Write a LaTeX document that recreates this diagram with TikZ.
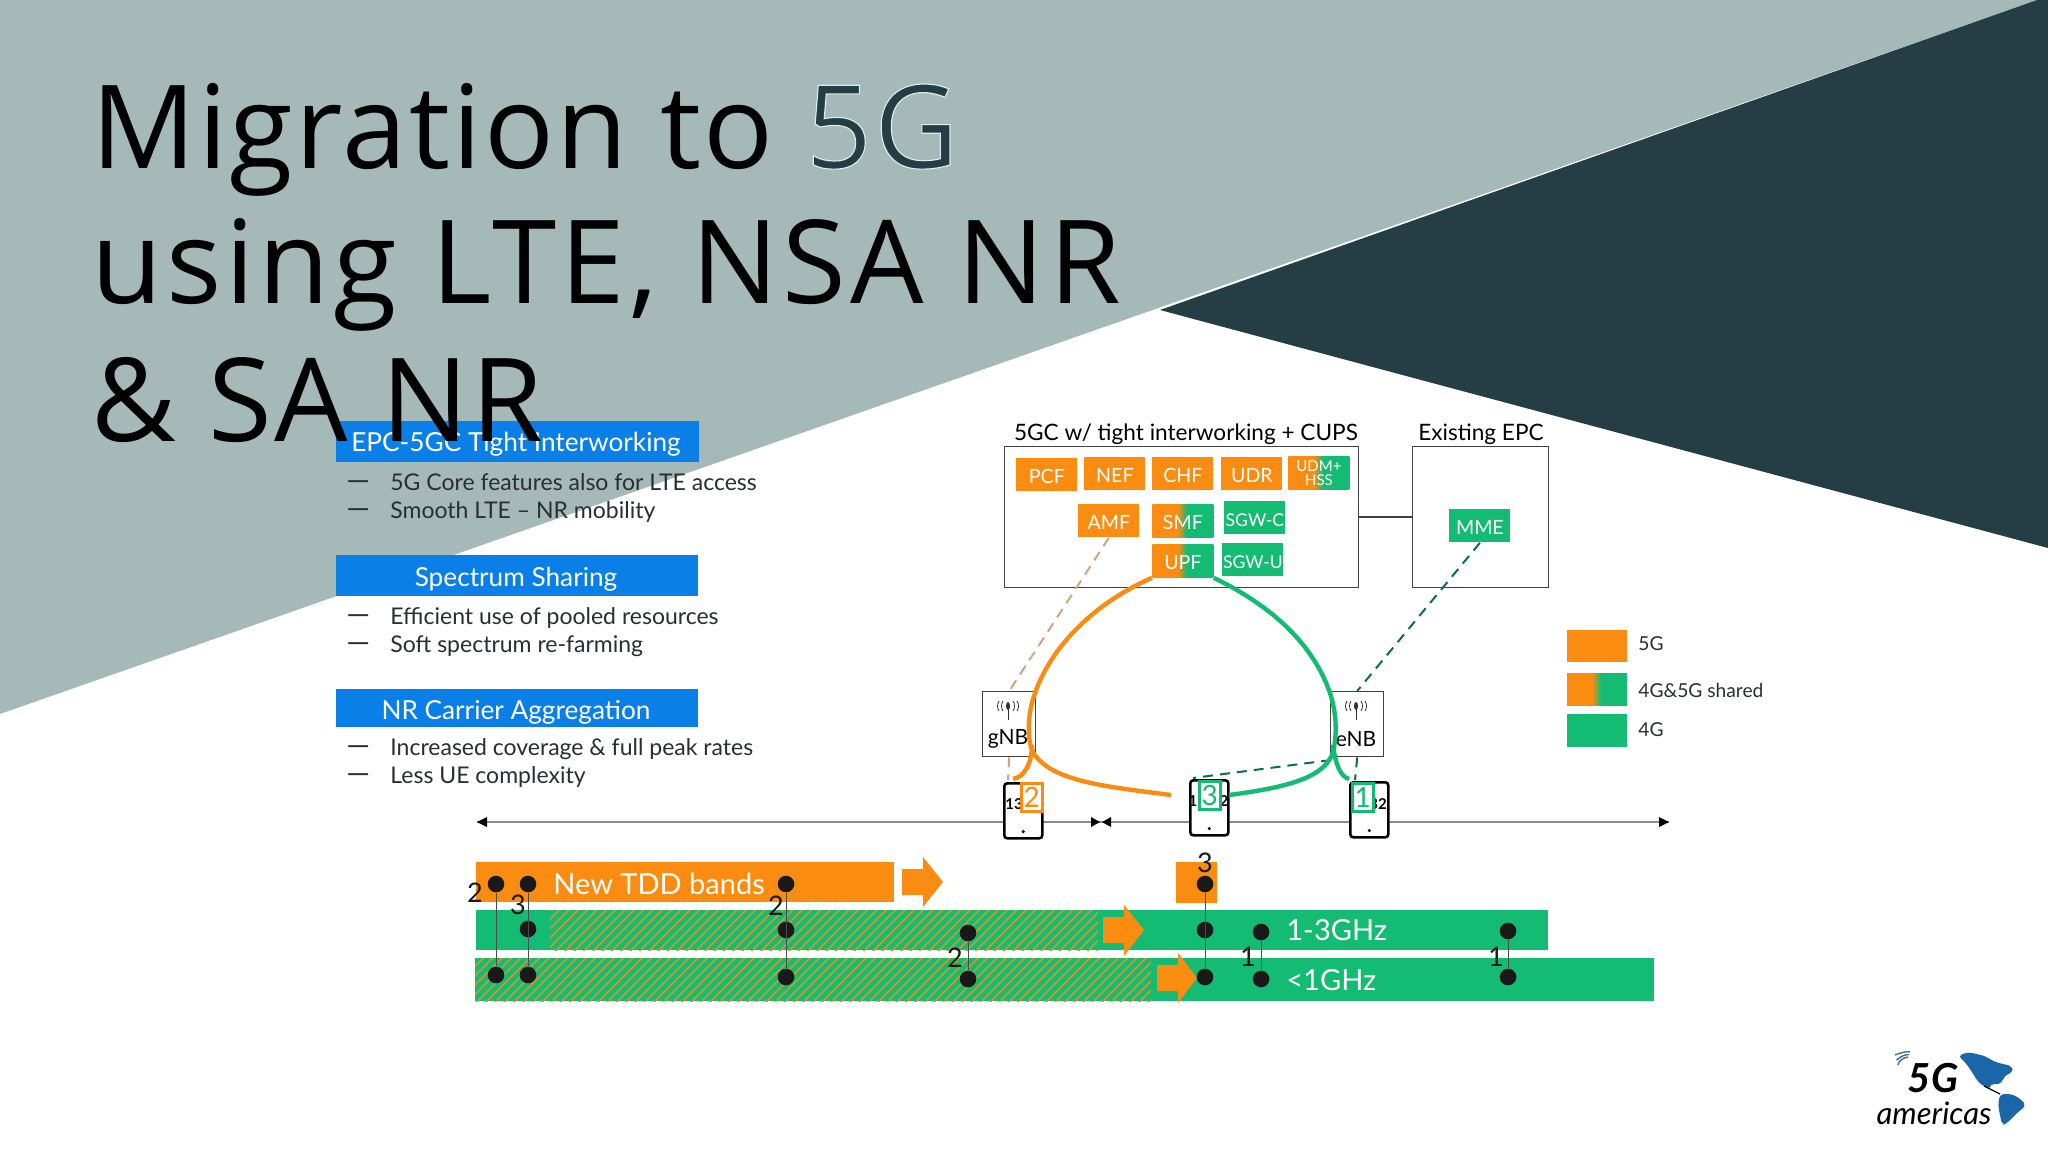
\documentclass[tikz,border=0pt]{standalone}
\usepackage{fontspec}
\setmainfont{Lato}
\newfontfamily\titlefont[LetterSpace=2.2]{Open Sans}
\newfontfamily\titlenarrow[LetterSpace=1.9]{Open Sans}
\newfontfamily\titlewide[LetterSpace=3.3]{Open Sans}
\newfontfamily\titleedge[LetterSpace=1.9,FakeBold=1]{Open Sans}
\usetikzlibrary{patterns.meta}
\definecolor{slate}{HTML}{A6B9B9}
\definecolor{petrol}{HTML}{253E46}
\definecolor{orange5g}{HTML}{FB8C12}
\definecolor{green4g}{HTML}{14BB72}
\definecolor{blueband}{HTML}{0A7FE8}
\definecolor{inktext}{HTML}{2A2E30}
\definecolor{hatchline}{HTML}{C49A2C}
\definecolor{logoblue}{HTML}{1A66A8}
\definecolor{dashtan}{HTML}{CFA57C}
\pgfdeclarehorizontalshading{splitfill}{100bp}{color(0bp)=(orange5g); color(46bp)=(orange5g); color(53bp)=(green4g); color(100bp)=(green4g)}
\tikzset{
    func/.style={minimum width=30.5pt,minimum height=16.5pt,inner sep=0pt,text=white,text height=8.6pt,text depth=0pt,font=\fontsize{9.8}{10}\selectfont,anchor=north west},
    nf5g/.style={func,fill=orange5g},
    nf4g/.style={func,fill=green4g},
    nfboth/.style={func,shading=splitfill},
    frame/.style={draw=black!75,line width=0.7pt,fill=white,inner sep=0pt,anchor=north west},
    phone/.style={draw=black,line width=1.3pt,rounded corners=1.5pt,fill=white,minimum width=19pt,minimum height=27.5pt,inner sep=0pt,anchor=north west},
    tagbox/.style={line width=1.3pt,fill=white,minimum width=10.5pt,minimum height=14pt,inner sep=0pt,font=\fontsize{14}{14}\selectfont,anchor=north west},
    dot/.style={circle,fill=black!90,minimum size=8.3pt,inner sep=0pt},
    head/.style={text=white,inner sep=0pt,font=\fontsize{13.1}{14}\selectfont},
    item/.style={text=inktext,inner sep=0pt,anchor=base west,font=\fontsize{11.5}{12}\selectfont},
    bignum/.style={inner sep=0pt,text=black!90,font=\fontsize{13.5}{14}\selectfont},
    tiny/.style={inner sep=0pt,font=\bfseries\fontsize{7.5}{8}\selectfont},
    bandtext/.style={inner sep=0pt,text=white,font=\fontsize{14.5}{15}\selectfont,anchor=west},
    titleline/.style={inner sep=0pt,anchor=base west,font=\titlefont\fontsize{58}{58}\selectfont},
    dashorange/.style={dash pattern=on 5pt off 3.5pt,color=dashtan,line width=1pt},
    dashgreen/.style={dash pattern=on 5pt off 3.5pt,color=green4g!60!black,line width=1pt},
    flow5g/.style={orange5g,line width=2.2pt},
    flow4g/.style={green4g,line width=2.2pt},
    hatch/.style={pattern={Lines[angle=45,distance=3.3pt,line width=0.9pt]},pattern color=hatchline},
    axisline/.style={black!45,line width=0.7pt},
    mover/.style={fill=orange5g},
}
\begin{document}
\begin{tikzpicture}[x=0.5pt,y=-0.5pt]
    \useasboundingbox (0,0) rectangle (2048,1152);
    % slide background
    \fill[white] (0,0) rectangle (2048,1152);
    \fill[slate] (0,0) -- (2037,0) -- (0,714) -- cycle;
    \fill[petrol] (1160,310) -- (2037,0) -- (2048,0) -- (2048,548) -- cycle;

    % left column
    \fill[blueband] (336,421) rectangle (699,462);
    \fill[blueband] (336,555) rectangle (698,596);
    \fill[blueband] (336,689) rectangle (698,727);
    \node[head] (hdtight) at (516,444) {EPC-5GC Tight Interworking};
    \node[head] (hdshare) at (516,579) {Spectrum Sharing};
    \node[head] (hdca) at (516,712) {NR Carrier Aggregation};
    \foreach \yy/\txt in {490/5G Core features also for LTE access,518/Smooth LTE -- NR mobility,
                          624/Efficient use of pooled resources,652/Soft spectrum re-farming,
                          755/Increased coverage \& full peak rates,783/Less UE complexity}{
        \node[item] at (390,\yy) {\txt};
        \node[item,font=\fontsize{15}{15}\selectfont] at (346,\yy) {---};
    }

    % core boxes
    \node[inner sep=0pt,font=\fontsize{11.3}{12}\selectfont] (cgctitle) at (1186,434) {5GC w/ tight interworking + CUPS};
    \node[inner sep=0pt,font=\fontsize{11.3}{12}\selectfont] (epctitle) at (1481,434) {Existing EPC};
    \node[frame,minimum width=177pt,minimum height=70.5pt] (cgc) at (1004,446) {};
    \node[frame,minimum width=68pt,minimum height=70.5pt] (epc) at (1412,446) {};
    \draw[line width=0.9pt,black!75] (cgc.east) -- (epc.west);

    \node[nf5g] (pcf) at (1016,458) {PCF};
    \node[nf5g] (nef) at (1084,457) {NEF};
    \node[nf5g] (chf) at (1152,457) {CHF};
    \node[nf5g] (udr) at (1221,457) {UDR};
    \node[nfboth,font=\fontsize{7.5}{8}\selectfont,align=center,text height=,text depth=] (udm) at (1288,456) {UDM+\\[-1pt]HSS};
    \node[nf5g] (amf) at (1078,504) {AMF};
    \node[nfboth] (smf) at (1152,504) {SMF};
    \node[nf4g,font=\fontsize{8.8}{9}\selectfont] (sgwc) at (1224,501) {SGW-C};
    \node[nfboth] (upf) at (1152,544) {UPF};
    \node[nf4g,font=\fontsize{8.8}{9}\selectfont] (sgwu) at (1222,543) {SGW-U};
    \node[nf4g] (mme) at (1449,509) {MME};

    % radio nodes
    \node[frame,minimum width=26.5pt,minimum height=32.5pt] (gnb) at (982,691) {};
    \node[frame,minimum width=26.5pt,minimum height=32.5pt] (enb) at (1330,691) {};
    \node[inner sep=0pt,font=\fontsize{10.5}{11}\selectfont] (gnbtxt) at (1008,739) {gNB};
    \node[inner sep=0pt,font=\fontsize{10.5}{11}\selectfont] (enbtxt) at (1356,739) {eNB};
    \foreach \xx in {1008,1356}{
        \draw[line width=0.5pt,black!80] (\xx,703) -- (\xx,720);
        \fill[black!80] (\xx,706) ellipse (2 and 4);
        \draw[line width=0.4pt,black!80] (\xx-5,701) .. controls (\xx-7,704) and (\xx-7,708) .. (\xx-5,711);
        \draw[line width=0.4pt,black!80] (\xx+5,701) .. controls (\xx+7,704) and (\xx+7,708) .. (\xx+5,711);
        \draw[line width=0.4pt,black!80] (\xx-9,701) .. controls (\xx-11,704) and (\xx-11,708) .. (\xx-9,711);
        \draw[line width=0.4pt,black!80] (\xx+9,701) .. controls (\xx+11,704) and (\xx+11,708) .. (\xx+9,711);
    }

    % phones
    \coordinate (axisl) at (477,822);
    \coordinate (axism) at (1100,822);
    \coordinate (axisr) at (1669,822);
    \draw[axisline] (axisl) -- (axism) -- (axisr);
    \fill[black] (477,822) -- (487,817) -- (487,827) -- cycle;
    \fill[black] (1669,822) -- (1659,817) -- (1659,827) -- cycle;
    \fill[black] (1100,822) -- (1091,817) -- (1091,827) -- cycle;
    \fill[black] (1102,822) -- (1111,817) -- (1111,827) -- cycle;
    \node[phone] (uea) at (1003,782) {};
    \node[phone] (ueb) at (1189,779) {};
    \node[phone] (uec) at (1349,781) {};
    \fill (uea.south)+(0,-8) circle (1.7);
    \fill (ueb.south)+(0,-8) circle (1.7);
    \fill (uec.south)+(0,-8) circle (1.7);
    \node[tiny] at (1014,804) {13};
    \node[tiny] at (1193,801) {1};
    \node[tiny] at (1224,801) {2};
    \node[tiny] at (1378,804) {32};
    \node[tagbox,draw=orange5g,text=orange5g] (taga) at (1020,782) {2};
    \node[tagbox,draw=green4g,text=green4g] (tagb) at (1198,780) {3};
    \node[tagbox,draw=green4g,text=green4g] (tagc) at (1351,782) {1};

    % signalling
    \coordinate (gnbdrop) at (1008,780);
    \coordinate (enbdrop) at (1355,780);
    \coordinate (crossa) at (1331,760);
    \coordinate (crossb) at (1193,778);
    \draw[dashorange] (amf.south) -- (gnb.north);
    \draw[dashorange] (gnb.south) -- (gnbdrop);
    \draw[dashgreen] (mme.south) -- (enb.north);
    \draw[dashgreen] (enb.south) -- (enbdrop);
    \draw[dashgreen] (crossa) -- (crossb);

    % user plane
    \coordinate (forka) at (1033,752);
    \coordinate (forkb) at (1333,752);
    \draw[flow5g] (upf.south west) .. controls (1090,605) and (1050,650) .. (1035,693)
        .. controls (1027,715) and (1027,740) .. (forka)
        .. controls (1050,782) and (1110,787) .. (1171,795);
    \draw[flow5g] (1032,745) .. controls (1032,762) and (1025,777) .. (1013,779);
    \draw[flow4g] (upf.south east) .. controls (1280,610) and (1315,650) .. (1330,693)
        .. controls (1337,715) and (1337,735) .. (forkb)
        .. controls (1325,777) and (1290,787) .. (1229,795);
    \draw[flow4g] (1333,745) .. controls (1335,762) and (1340,777) .. (1349,779);

    % legend
    \fill[orange5g] (1567,630) rectangle (1627,662);
    \shade[shading=splitfill] (1567,673) rectangle (1627,705);
    \fill[green4g] (1567,714) rectangle (1627,747);
    \foreach \yy/\txt in {644/5G,690/4G\&5G shared,730/4G}{
        \node[inner sep=0pt,anchor=west,text=inktext,font=\fontsize{9.6}{10}\selectfont] at (1638,\yy) {\txt};
    }

    % bands
    \fill[orange5g] (476,862) rectangle (894,902);
    \fill[orange5g] (1176,862) rectangle (1217,903);
    \fill[green4g] (476,910) rectangle (1548,950);
    \fill[green4g] (475,958) rectangle (1654,1001);
    \fill[hatch] (550,910) rectangle (1098,950);
    \fill[hatch] (475,958) rectangle (1151,1001);
    \node[bandtext] (tdd) at (553,884) {New TDD bands};
    \node[bandtext] (midband) at (1286,930) {1-3GHz};
    \node[bandtext] (lowband) at (1286,980) {<1GHz};
    \fill[mover] (902,869) -- (923,869) -- (923,857) -- (943,882) -- (923,907) -- (923,895) -- (902,895) -- cycle;
    \fill[mover] (1103,917) -- (1124,917) -- (1124,905) -- (1144,930) -- (1124,956) -- (1124,943) -- (1103,943) -- cycle;
    \fill[mover] (1157,965) -- (1178,965) -- (1178,953) -- (1197,978) -- (1178,1003) -- (1178,991) -- (1157,991) -- cycle;

    % carriers
    \node[dot] (a1) at (496,884) {};
    \node[dot] (a3) at (496,975) {};
    \node[dot] (b1) at (528,884) {};
    \node[dot] (b2) at (528,929) {};
    \node[dot] (b3) at (528,975) {};
    \node[dot] (c1) at (786,884) {};
    \node[dot] (c2) at (786,930) {};
    \node[dot] (c3) at (786,977) {};
    \node[dot] (d2) at (968,933) {};
    \node[dot] (d3) at (968,979) {};
    \node[dot] (e1) at (1205,884) {};
    \node[dot] (e2) at (1205,930) {};
    \node[dot] (e3) at (1205,977) {};
    \node[dot] (f2) at (1261,932) {};
    \node[dot] (f3) at (1261,979) {};
    \node[dot] (g2) at (1508,931) {};
    \node[dot] (g3) at (1508,977) {};
    \foreach \p/\q in {a1/a3,b1/b3,c1/c3,d2/d3,e1/e3,f2/f3,g2/g3}
        \draw[black!70,line width=0.5pt] (\p) -- (\q);
    \node[bignum] at (475,893) {2};
    \node[bignum] at (518,905) {3};
    \node[bignum] at (776,906) {2};
    \node[bignum] at (955,958) {2};
    \node[bignum] at (1205,863) {3};
    \node[bignum] at (1248,957) {1};
    \node[bignum] at (1496,957) {1};

    % logo
    \fill[logoblue,rounded corners=2pt] (1958,1056) -- (1968,1052) -- (1985,1056) -- (1995,1062) -- (2003,1064)
        -- (2012,1066) -- (2013,1072) -- (2004,1076) -- (2002,1083) -- (1995,1085) -- (1990,1083) -- (1991,1089)
        -- (1985,1087) -- (1978,1082) -- (1972,1072) -- (1965,1062) -- cycle;
    \fill[logoblue,rounded corners=2pt] (2000,1094) -- (2012,1094) -- (2022,1100) -- (2026,1106) -- (2018,1112)
        -- (2012,1118) -- (2006,1124) -- (2002,1125) -- (2000,1115) -- (1998,1105) -- cycle;
    \draw[black,line width=0.6pt] (1984,1086) -- (2000,1094);
    \foreach \rr in {0,5,10}
        \draw[logoblue!60!gray,line width=0.7pt] (1898-\rr*0.3,1065-\rr) .. controls (1899+\rr*0.3,1060-\rr*0.8) and (1903+\rr*0.6,1058-\rr*0.7) .. (1908+\rr*0.2,1057-\rr*0.5);
    \node[inner sep=0pt,font=\itshape\bfseries\fontsize{20}{20}\selectfont] (logofive) at (1933,1078) {5G};
    \node[inner sep=0pt,font=\itshape\fontsize{15.5}{16}\selectfont] (logotext) at (1934,1113) {americas};

    % title on top
    \node[titleline,font=\titlenarrow\fontsize{58}{58}\selectfont] (titlea) at (91,168) {Migration to \textcolor{petrol}{\titleedge\special{pdf:code 0.86 0.93 0.93 RG}5G}};
    \node[titleline,font=\titlewide\fontsize{58}{58}\selectfont] (titleb) at (91,303) {using LTE, NSA NR};
    \node[titleline] (titlec) at (91,441) {\& SA NR};
\end{tikzpicture}
\end{document}
